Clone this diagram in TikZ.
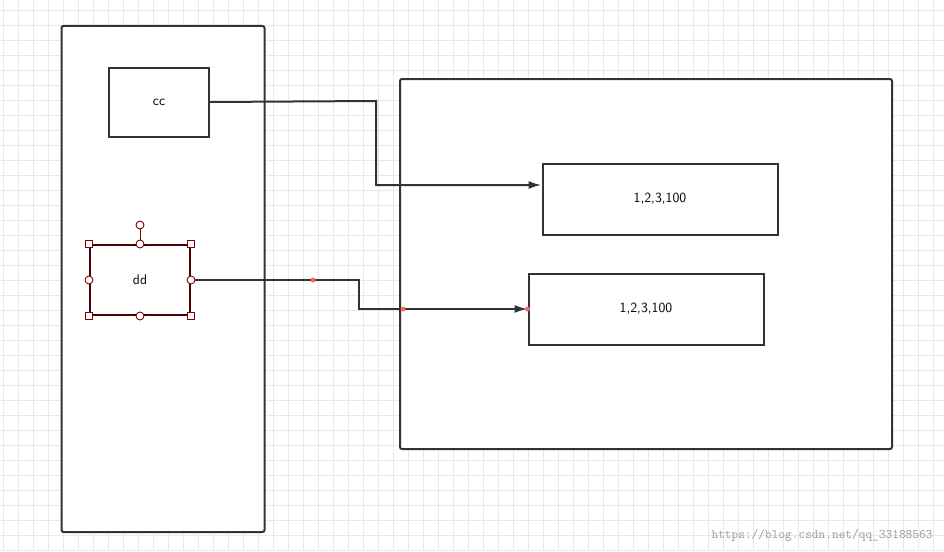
\documentclass[tikz,border=0pt]{standalone}
\usepackage{tikz}
\usetikzlibrary{positioning,arrows.meta}
\begin{document}
\begin{tikzpicture}[x=1pt,y=-1pt,>={Latex[length=13pt,width=8pt]},font=\sffamily\fontsize{14}{16}\selectfont]
\tikzstyle{panel}=[draw=black!80,fill=white,rounded corners=2pt,line width=2pt]
\tikzstyle{box}=[draw=black!80,fill=white,line width=2pt,inner sep=0pt]
\tikzstyle{sel}=[draw=red!30!black,fill=white,line width=2pt,inner sep=0pt]
\tikzstyle{knob}=[circle,draw=red!50!black,fill=white,line width=0.9pt,inner sep=0pt,minimum size=8pt]
\tikzstyle{corner}=[draw=red!50!black,fill=white,line width=0.9pt,inner sep=0pt,minimum size=7pt]
\tikzstyle{dot}=[circle,fill=red!60,inner sep=0pt,minimum size=5pt]
\tikzstyle{wire}=[draw=black!80,line width=2pt]
\useasboundingbox (0,0) rectangle (944,551);
\fill[white] (0,0) rectangle (944,551);
\foreach \x in {3,18,...,944} \draw[black!9,line width=0.7pt] (\x,0) -- (\x,551);
\foreach \y in {10,25,...,551} \draw[black!9,line width=0.7pt] (0,\y) -- (944,\y);
% containers
\node[panel,minimum width=203,minimum height=506] (L) at (163,279) {};
\node[panel,minimum width=492,minimum height=370] (R) at (646,264) {};
% boxes
\node[box,minimum width=100,minimum height=69] (cc) at (159,102) {cc};
\node[box,minimum width=235,minimum height=71] (t1) at (660,199) {1,2,3,100};
\node[box,minimum width=235,minimum height=71] (t2) at (646,309) {1,2,3,100};
\node[sel,minimum width=100,minimum height=70] (dd) at (140,280) {dd};
% connectors
\coordinate (k1) at (376,101);
\coordinate (k2) at (376,185);
\coordinate (k3) at (359,280);
\coordinate (k4) at (359,309);
\draw[wire,->] (cc.east) -- (k1) -- (k2) -- (t1.west|-k2);
\draw[wire,->] (dd.east) -- (k3) -- (k4) -- (t2.west|-k4);
\node[dot] (d1) at (313,280) {};
\node[dot] (d2) at (403,309) {};
\node[dot] (d3) at (t2.west|-k4) {};
% selection handles
\node[knob] (rot) at (140,225) {};
\draw[red!50!black,line width=0.9pt] (rot) -- (dd.north);
\foreach \a in {north west,north east,south west,south east}
  \node[corner] at (dd.\a) {};
\foreach \a in {north,south,west,east}
  \node[knob] at (dd.\a) {};
\node[black!40,font=\ttfamily\fontsize{13}{15}\selectfont,anchor=south east] (wm) at (936,545) {https://blog.csdn.net/qq\_33188563};
\end{tikzpicture}
\end{document}
